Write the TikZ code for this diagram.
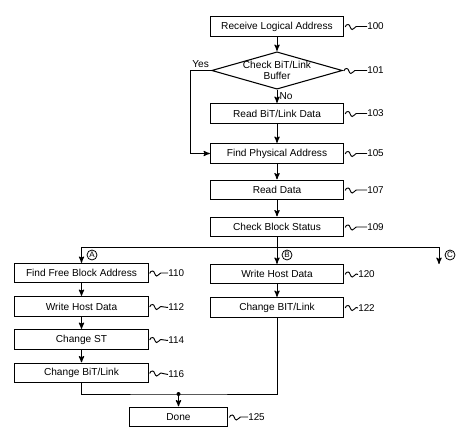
\documentclass[tikz,border=0pt]{standalone}
\usepackage{fontspec}
\setmainfont{Liberation Sans}
\usetikzlibrary{
    arrows,
    shapes,
    calc,
    positioning,
}

\begin{document}
\begin{tikzpicture}[x=0.75pt,y=-0.75pt,>=stealth',auto]

    \tikzstyle{commonNode}=[font=\fontsize{7.6}{8.4}\selectfont, align=center, line width=0.8pt, draw=black]
    \tikzstyle{stepBox}=[commonNode, rectangle, minimum width=100pt, minimum height=14.5pt, inner sep=1pt]
    \tikzstyle{doneBox}=[stepBox, minimum width=74pt]
    \tikzstyle{decision}=[commonNode, diamond, aspect=3.5, inner sep=-6pt, minimum width=98pt, minimum height=28pt]
    \tikzstyle{refNum}=[font=\fontsize{7.4}{7.4}\selectfont, inner sep=0pt, anchor=west]
    \tikzstyle{edgeText}=[font=\fontsize{7.6}{7.6}\selectfont, inner sep=1.5pt]
    \tikzstyle{branchTag}=[circle, draw, line width=0.6pt, inner sep=0pt, minimum size=7.5pt, font=\fontsize{6}{6}\selectfont]
    \tikzstyle{pre}=[<-, line width=0.75pt, shorten <=0.3pt]
    \tikzstyle{wire}=[line width=0.75pt]
    \tikzstyle{squiggle}=[line width=0.7pt, to path={(\tikztostart.east) ++(1,0.5) .. controls +(0.5,-2) and +(-1.5,0) .. ++(3,-2.5) .. controls +(2,0) and +(-2,0) .. ++(4,5) .. controls +(2,0) and +(-2,0.5) .. ++(4,-3) -- (\tikztotarget.west)}]

    \useasboundingbox (0,0) rectangle (474,445);

    % Main column
    \node at (277,26.5)  [stepBox]  (b100) {Receive Logical Address};
    \node at (277,70.5)  [decision] (d101) {Check BiT/Link\\Buffer}
        edge [pre] (b100);
    \node at (277,113.5) [stepBox]  (b103) {Read BiT/Link Data}
        edge [pre] node [swap, edgeText] {No} (d101);
    \node at (277,153.5) [stepBox]  (b105) {Find Physical Address}
        edge [pre] (b103);
    \node at (277,190)   [stepBox]  (b107) {Read Data}
        edge [pre] (b105);
    \node at (277,227)   [stepBox]  (b109) {Check Block Status}
        edge [pre] (b107);

    % Yes branch
    \coordinate (yesTurn) at (190,70.5);
    \draw [wire, ->] (d101.west) -- node [above, edgeText] {Yes} (yesTurn) |- (b105.west);

    % Branch bus
    \coordinate (busA) at (81.5,247);
    \coordinate (busMid) at (277,247);
    \coordinate (busC) at (439,247);
    \coordinate (endC) at (439,264);
    \draw [wire] (b109.south) -- (busMid);
    \draw [wire] (busA) -- (busC);
    \draw [wire, ->] (busC) -- (endC);

    \node at (92,255)  [branchTag] (tagA) {A};
    \node at (287,255) [branchTag] (tagB) {B};
    \node at (450,255) [branchTag] (tagC) {C};

    % Branch A
    \node at (81.5,273)   [stepBox] (b110) {Find Free Block Address};
    \draw [wire, ->] (busA) -- (b110.north);
    \node at (81.5,306.5) [stepBox] (b112) {Write Host Data}
        edge [pre] (b110);
    \node at (81.5,339.5) [stepBox] (b114) {Change ST}
        edge [pre] (b112);
    \node at (81.5,373)   [stepBox] (b116) {Change BiT/Link}
        edge [pre] (b114);

    % Branch B
    \node at (277,274)   [stepBox] (b120) {Write Host Data};
    \draw [wire, ->] (busMid) -- (b120.north);
    \node at (277,307.5) [stepBox] (b122) {Change BIT/Link}
        edge [pre] (b120);

    % Merge and done
    \coordinate (mergeDot) at (178.5,394);
    \draw [wire] (b116.south) |- (mergeDot) -| (b122.south);
    \fill (mergeDot) circle (1.5pt);
    \node at (178.5,417) [doneBox] (done) {Done}
        edge [pre] (mergeDot);

    % Reference numbers
    \node at (367,26.5)  [refNum] (n100) {100};
    \node at (367,70.5)  [refNum] (n101) {101};
    \node at (367,113.5) [refNum] (n103) {103};
    \node at (367,153.5) [refNum] (n105) {105};
    \node at (367,190)   [refNum] (n107) {107};
    \node at (367,227)   [refNum] (n109) {109};
    \node at (168,273)   [refNum] (n110) {110};
    \node at (168,307.5) [refNum] (n112) {112};
    \node at (168,340.5) [refNum] (n114) {114};
    \node at (168,374.5) [refNum] (n116) {116};
    \node at (358,274.5) [refNum] (n120) {120};
    \node at (358,308)   [refNum] (n122) {122};
    \node at (248,417)   [refNum] (n125) {125};

    \foreach \step in {100,103,105,107,109,110,112,114,116,120,122}
        \draw (b\step) edge [squiggle] (n\step);
    \draw (d101) edge [squiggle] (n101);
    \draw (done) edge [squiggle] (n125);

\end{tikzpicture}
\end{document}
